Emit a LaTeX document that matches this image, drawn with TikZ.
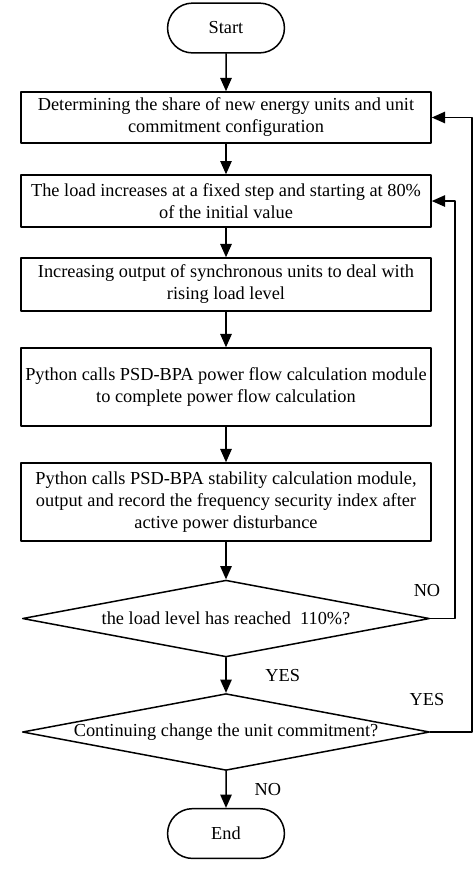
\documentclass[tikz,border=0pt]{standalone}
\usepackage{fontspec}
\setmainfont{Liberation Serif}
\usepackage{tikz}
\usetikzlibrary{arrows.meta}
\usetikzlibrary{shapes.misc}
\usetikzlibrary{shapes.geometric}

\begin{document}
\begin{tikzpicture}[line cap=round, line join=round, line width=0.9pt,
    >={Triangle[length=0.28cm,width=0.24cm]},
    every node/.style={font=\fontsize{11}{13.2}\selectfont},
    term/.style={draw, rounded rectangle, minimum width=2.7cm, minimum height=1.05cm},
    proc/.style={draw, align=center, minimum width=8.65cm, inner sep=0pt},
    test/.style={draw, diamond, aspect=5.3, inner sep=0pt, minimum width=8.59cm, minimum height=1.62cm}]
  \useasboundingbox (0,0) rectangle (10,-18.734);
  %--- Nodes
    \node[term] (ST) at (4.768,-0.591) {Start};
    \node[proc, minimum height=1.076cm] (SH) at (4.768,-2.479) {Determining the share of new energy units and unit\\commitment configuration};
    \node[proc, minimum height=1.097cm] (LD) at (4.768,-4.241) {The load increases at a fixed step and starting at 80\%\\of the initial value};
    \node[proc, minimum height=1.118cm] (SY) at (4.768,-6.002) {Increasing output of synchronous units to deal with\\rising load level};
    \node[proc, minimum height=1.646cm] (PF) at (4.768,-8.165) {Python calls PSD-BPA power flow calculation module\\to complete power flow calculation};
    \node[proc, minimum height=1.646cm] (SC) at (4.768,-10.591) {Python calls PSD-BPA stability calculation module,\\output and record the frequency security index after\\active power disturbance};
    \node[test] (LV) at (4.768,-13.049) {the load level has reached~~110\%?};
    \node[test] (UC) at (4.768,-15.443) {Continuing change the unit commitment?};
    \node[term] (EN) at (4.768,-17.585) {End};
    \coordinate (R1) at (9.599,0);
    \coordinate (R2) at (9.958,0);
  %--- Arrows
    \draw[->] (ST) -- (SH);
    \draw[->] (SH) -- (LD);
    \draw[->] (LD) -- (SY);
    \draw[->] (SY) -- (PF);
    \draw[->] (PF) -- (SC);
    \draw[->] (SC) -- (LV);
    \draw[->] (LV) -- node[pos=0.5, right=0.7cm] {YES} (UC);
    \draw[->] (UC) -- node[pos=0.5, right=0.47cm] {NO} (EN);
    \draw[->] (LV.east) -| (R1 |- LD.east) -- (LD.east);
    \draw[->] (UC.east) -| (R2 |- SH.east) -- (SH.east);
  %--- Loop labels
    \node (NO) at (9.008,-12.468) {NO};
    \node (YS) at (9.008,-14.747) {YES};
  %---
\end{tikzpicture}
\end{document}
